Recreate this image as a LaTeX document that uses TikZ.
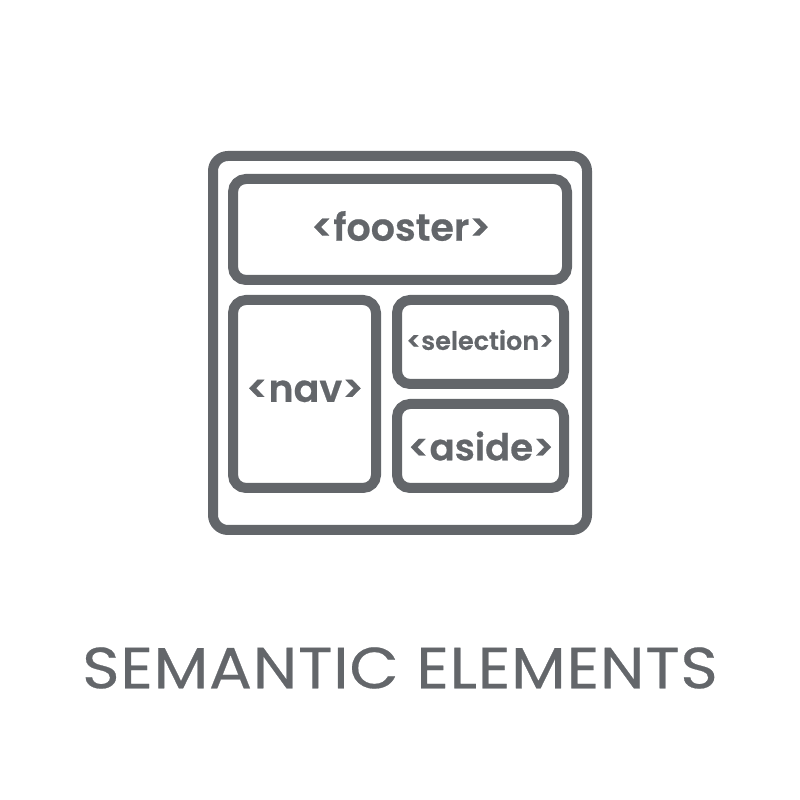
\documentclass[tikz,border=0pt]{standalone}
\usepackage{fontspec}
\setmainfont{Poppins}
\newfontfamily\tagfont[FakeBold=0.6]{Poppins SemiBold}
\newfontfamily\titlefont[FakeStretch=1.1,LetterSpace=1,FakeBold=0.4]{Poppins}
\usetikzlibrary{positioning}
\definecolor{icongray}{RGB}{99,102,106}

\begin{document}
\begin{tikzpicture}[
    x=1pt, y=1pt,
    node distance = 10pt,
    box/.style={rectangle,draw=icongray,line width=10pt,rounded corners=13pt,inner sep=0pt},
    tagtext/.style={text=icongray,inner sep=0pt,font=\tagfont\fontsize{#1}{#1}\selectfont},
    title/.style={text=icongray,inner sep=0pt,font=\titlefont\fontsize{58}{58}\selectfont}
]
\useasboundingbox (0,0) rectangle (800,800);

% Outer frame
\node[box, minimum width=374pt, minimum height=374pt, rounded corners=15pt] (frame) at (400,457) {};

% Header block
\node[box, minimum width=334pt, minimum height=101pt] (fooster) at (400,570.5) {};

% Side block and the two blocks next to it
\node[box, minimum width=143pt, minimum height=188pt, below right=10pt and 0pt of fooster.south west, anchor=north west] (nav) {};
\node[box, minimum width=167pt, minimum height=84pt, right=11pt of nav.north east, anchor=north west] (selection) {};
\node[box, minimum width=167pt, minimum height=84pt, below=10pt of selection] (aside) {};

% Tags
\node[tagtext=38] (foostertag) at (401,574) {<fooster>};
\node[tagtext=25.5] (selectiontag) at (480,460) {<selection>};
\node[tagtext=38] (navtag) at (305,409) {<nav>};
\node[tagtext=37] (asidetag) at (481,354) {<aside>};

% Caption
\node[title] (caption) at (400,132) {SEMANTIC ELEMENTS};

\end{tikzpicture}
\end{document}
